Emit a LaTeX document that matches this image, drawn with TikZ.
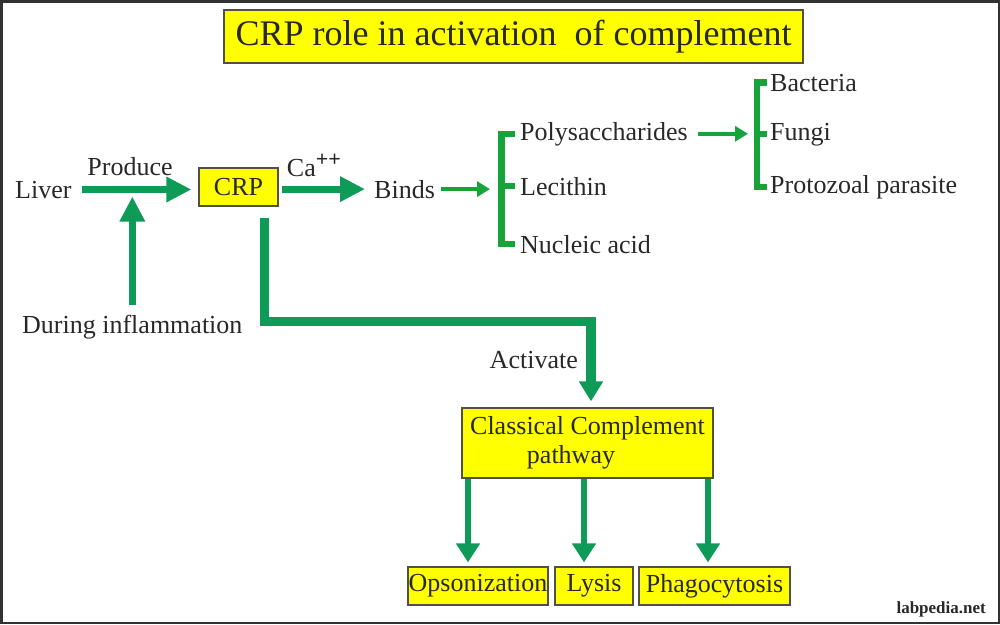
\documentclass[tikz,border=0pt]{standalone}
\usepackage{fontspec}
\setmainfont{Liberation Serif}
\usetikzlibrary{arrows.meta}

\definecolor{boxyellow}{RGB}{255,255,0}
\definecolor{boxedge}{RGB}{80,80,70}
\definecolor{arrowgreen}{RGB}{14,155,88}
\definecolor{linegreen}{RGB}{22,164,58}
\definecolor{textgray}{RGB}{40,40,40}
\definecolor{framegray}{RGB}{50,50,50}

\begin{document}
\begin{tikzpicture}[x=1pt, y=-1pt,
    txt/.style={inner sep=0pt, text=textgray, font=\fontsize{26}{29}\selectfont},
    ybox/.style={draw=boxedge, line width=1.2pt, fill=boxyellow, inner sep=0pt, text=textgray, font=\fontsize{26}{29}\selectfont},
    bigarrow/.style={draw=arrowgreen, line width=7pt, -{Triangle[length=25pt, width=24pt]}},
    crparrow/.style={draw=arrowgreen, line width=9.5pt, -{Triangle[length=20pt, width=23pt]}},
    outarrow/.style={draw=arrowgreen, line width=6.5pt, -{Triangle[length=19pt, width=23pt]}},
    smallarrow/.style={draw=linegreen, line width=4pt, -{Triangle[length=13pt, width=15pt]}},
    bracket/.style={draw=linegreen, line width=6.5pt}]

    % Page and frame
    \useasboundingbox (0,0) rectangle (1000,624);
    \draw[framegray, line width=2.5pt] (1.25,1.25) rectangle (998.75,622.75);

    % Title
    \node[ybox, minimum width=579pt, minimum height=53pt, font=\fontsize{36}{40}\selectfont] (title) at (513.5,36.5) {CRP role in activation\ \ of complement};

    % Liver produces CRP
    \node[txt, anchor=base west] (liver) at (15,198) {Liver};
    \node[ybox, minimum width=79pt, minimum height=38pt] (crp) at (238.5,187) {CRP};
    \node[txt, anchor=base west] (during) at (22,333) {During inflammation};
    \draw[bigarrow, shorten <=10pt, shorten >=7pt] (liver.east) -- (liver.east -| crp.west)
        node (produce) [txt, pos=0.46, anchor=base, yshift=14pt] {Produce};
    \draw[bigarrow, shorten <=9pt, shorten >=7pt] (during.north) -- (during.north |- liver.east);

    % Binding with calcium
    \node[txt, anchor=base west] (binds) at (374,198) {Binds};
    \draw[bigarrow, shorten <=3pt, shorten >=9pt] (binds.west -| crp.east) -- (binds.west)
        node (calcium) [txt, pos=0.37, anchor=base, yshift=13pt] {Ca\raisebox{10pt}{\fontsize{22}{22}\selectfont\bfseries ++}};

    % What CRP binds
    \node[txt, anchor=base west] (poly) at (520,140) {Polysaccharides};
    \node[txt, anchor=base west] (lecithin) at (520,195) {Lecithin};
    \node[txt, anchor=base west] (nucleic) at (520,253) {Nucleic acid};
    \draw[smallarrow, shorten <=6pt, shorten >=30pt] (binds.east) -- (binds.east -| lecithin.west);
    \draw[bracket] ([xshift=-5pt]poly.west) -- ++(-13.5,0) |- ([xshift=-5pt]nucleic.west);
    \draw[bracket] ([xshift=-5pt]lecithin.west) -- ++(-13.5,0);

    % Organisms carrying polysaccharides
    \node[txt, anchor=base west] (bacteria) at (770,91) {Bacteria};
    \node[txt, anchor=base west] (fungi) at (770,140) {Fungi};
    \node[txt, anchor=base west] (protozoa) at (770,193) {Protozoal parasite};
    \draw[smallarrow, shorten <=10pt, shorten >=22pt] (poly.east) -- (poly.east -| fungi.west);
    \draw[bracket] ([xshift=-3pt]bacteria.west) -- ++(-10,0) |- ([xshift=-3pt]protozoa.west);
    \draw[bracket] ([xshift=-3pt]fungi.west) -- ++(-10,0);

    % Activation of the classical pathway
    \node[ybox, minimum width=251pt, minimum height=70pt, align=center] (classical) at (587.5,443) {Classical Complement\\pathway\hspace*{33pt}};
    \node[txt, anchor=base east] (activate) at (578,368) {Activate};
    \draw[crparrow, shorten <=11pt, shorten >=6pt] ([xshift=26pt]crp.south) -- ++(0,115) -| ([xshift=3.5pt]classical.north);

    % Outcomes
    \node[ybox, minimum width=140pt, minimum height=38pt] (opso) at (478,586) {Opsonization};
    \node[ybox, minimum width=78pt, minimum height=38pt] (lysis) at (594,586) {Lysis};
    \node[ybox, minimum width=151pt, minimum height=38pt] (phago) at (714.5,586) {Phagocytosis};
    \coordinate (o1) at ([xshift=-10pt]opso.north);
    \coordinate (o2) at ([xshift=-10pt]lysis.north);
    \coordinate (o3) at ([xshift=-6.5pt]phago.north);
    \foreach \c in {o1,o2,o3}
        \draw[outarrow, shorten >=4pt] (\c |- classical.south) -- (\c);

    % Source
    \node[anchor=base east, inner sep=0pt, text=textgray, font=\fontsize{17}{20}\selectfont\bfseries] (source) at (986,613) {labpedia.net};
\end{tikzpicture}
\end{document}
